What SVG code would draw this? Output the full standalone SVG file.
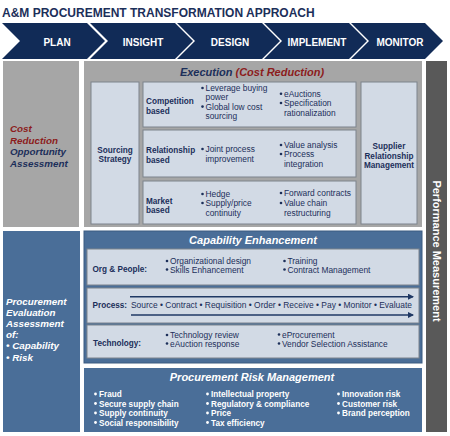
<svg xmlns="http://www.w3.org/2000/svg" width="450" height="436" viewBox="0 0 450 436">
<style>
text{font-family:"Liberation Sans",Arial,sans-serif;}
.title{font-size:12px;font-weight:bold;fill:#1c2f5a;}
.chev{fill:#112b57;}
.cl{font-size:10px;font-weight:bold;fill:#ffffff;text-anchor:middle;}
.gray{fill:#a6a6a6;}
.blue{fill:#4a6e98;}
.lbox{fill:#d2dae5;stroke:#7d838c;stroke-width:1;}
.shadow{fill:#6f757e;}
.hb{font-size:11px;font-weight:bold;font-style:italic;}
.lb{font-size:8.2px;font-weight:bold;fill:#1c2f5a;}
.lbc{font-size:8.2px;font-weight:bold;fill:#1c2f5a;text-anchor:middle;}
.tx{font-size:8.4px;fill:#1c2f5a;}
.wb{font-size:8.2px;font-weight:bold;fill:#ffffff;}
.side{font-size:9.8px;font-weight:bold;font-style:italic;}
.navy{fill:#1c2f5a;}
.red{fill:#8c1c1c;}
.white{fill:#ffffff;}
.dot{fill:#1c2f5a;}
.wdot{fill:#ffffff;}
.pl{stroke:#1f3864;stroke-width:1.6;fill:none;}
</style>
<defs>
<marker id="ah" viewBox="0 0 6 6" refX="5" refY="3" markerWidth="4" markerHeight="4" orient="auto">
<path d="M0,0 L6,3 L0,6 z" fill="#1f3864"/>
</marker>
</defs>

<text class="title" x="2" y="16.5">A&amp;M PROCUREMENT TRANSFORMATION APPROACH</text>

<g id="phases">
<g id="plan"><polygon class="chev" points="2,23 87,23 105,41 87,59 2,59 20,41"/><text class="cl" x="57" y="45.5">PLAN</text></g>
<g id="insight"><polygon class="chev" points="90,23 175,23 193,41 175,59 90,59 108,41"/><text class="cl" x="143" y="45.5">INSIGHT</text></g>
<g id="design"><polygon class="chev" points="177,23 262,23 280,41 262,59 177,59 195,41"/><text class="cl" x="230" y="45.5">DESIGN</text></g>
<g id="implement"><polygon class="chev" points="264,23 349,23 367,41 349,59 264,59 282,41"/><text class="cl" x="317" y="45.5">IMPLEMENT</text></g>
<g id="monitor"><polygon class="chev" points="351,23 425,23 443,41 425,59 351,59 369,41"/><text class="cl" x="400" y="45.5">MONITOR</text></g>
</g>

<g id="cost-reduction">
<rect class="gray" x="3" y="61" width="76" height="166"/>
<text class="side red" x="10" y="132">Cost</text>
<text class="side red" x="10" y="143.5">Reduction</text>
<text class="side navy" x="10" y="155">Opportunity</text>
<text class="side navy" x="10" y="166.5">Assessment</text>
</g>

<g id="execution">
<rect class="gray" x="84" y="61" width="338" height="166"/>
<text class="hb" x="252" y="75.5" text-anchor="middle"><tspan class="navy">Execution </tspan><tspan class="red">(Cost Reduction)</tspan></text>
</g>

<g id="sourcing-strategy">
<rect class="lbox" x="91" y="82" width="48" height="142"/>
<text class="lbc" x="115" y="152.5">Sourcing</text>
<text class="lbc" x="115" y="162">Strategy</text>
</g>

<g id="competition">
<rect class="lbox" x="143" y="82" width="213" height="45"/>
<text class="lb" x="146" y="104">Competition</text>
<text class="lb" x="146" y="113.5">based</text>
<circle class="dot" cx="202.5" cy="88" r="1.3"/>
<text class="tx" x="205.5" y="91">Leverage buying</text>
<text class="tx" x="205.5" y="100.3">power</text>
<circle class="dot" cx="202.5" cy="106.6" r="1.3"/>
<text class="tx" x="205.5" y="109.6">Global low cost</text>
<text class="tx" x="205.5" y="119">sourcing</text>
<circle class="dot" cx="281" cy="93.7" r="1.3"/>
<text class="tx" x="284" y="96.7">eAuctions</text>
<circle class="dot" cx="281" cy="103" r="1.3"/>
<text class="tx" x="284" y="106">Specification</text>
<text class="tx" x="284" y="115.5">rationalization</text>
</g>

<g id="relationship">
<rect class="lbox" x="143" y="130" width="213" height="47"/>
<text class="lb" x="146" y="153">Relationship</text>
<text class="lb" x="146" y="163">based</text>
<circle class="dot" cx="202.5" cy="149" r="1.3"/>
<text class="tx" x="205.5" y="152">Joint process</text>
<text class="tx" x="205.5" y="161.5">improvement</text>
<circle class="dot" cx="281" cy="145" r="1.3"/>
<text class="tx" x="284" y="148">Value analysis</text>
<circle class="dot" cx="281" cy="154" r="1.3"/>
<text class="tx" x="284" y="157">Process</text>
<text class="tx" x="284" y="166.5">integration</text>
</g>

<g id="market">
<rect class="lbox" x="143" y="181" width="213" height="43"/>
<text class="lb" x="146" y="203.5">Market</text>
<text class="lb" x="146" y="213">based</text>
<circle class="dot" cx="202.5" cy="194" r="1.3"/>
<text class="tx" x="205.5" y="197">Hedge</text>
<circle class="dot" cx="202.5" cy="203" r="1.3"/>
<text class="tx" x="205.5" y="206">Supply/price</text>
<text class="tx" x="205.5" y="215.5">continuity</text>
<circle class="dot" cx="281" cy="193" r="1.3"/>
<text class="tx" x="284" y="196">Forward contracts</text>
<circle class="dot" cx="281" cy="203" r="1.3"/>
<text class="tx" x="284" y="206">Value chain</text>
<text class="tx" x="284" y="215.5">restructuring</text>
</g>

<g id="supplier-relationship">
<rect class="lbox" x="361" y="82" width="56" height="142"/>
<text class="lbc" x="389" y="149">Supplier</text>
<text class="lbc" x="389" y="158.5">Relationship</text>
<text class="lbc" x="389" y="168">Management</text>
</g>

<g id="performance">
<rect x="426" y="61" width="21" height="371" fill="#595959"/>
<text transform="translate(432.5,251) rotate(90)" text-anchor="middle" font-size="11" font-weight="bold" fill="#ffffff">Performance Measurement</text>
</g>

<g id="procurement-evaluation">
<rect class="blue" x="3" y="231" width="77" height="201"/>
<text class="side white" x="6" y="305">Procurement</text>
<text class="side white" x="6" y="316">Evaluation</text>
<text class="side white" x="6" y="327">Assessment</text>
<text class="side white" x="6" y="338">of:</text>
<text class="side white" x="6" y="349">• Capability</text>
<text class="side white" x="6" y="360.5">• Risk</text>
</g>

<g id="capability">
<rect class="blue" x="84" y="231" width="338" height="132" stroke="#3b5a80" stroke-width="1"/>
<text class="hb white" x="253" y="243.5" text-anchor="middle">Capability Enhancement</text>
</g>

<g id="org-people">
<rect class="lbox" x="87" y="249" width="332" height="36"/>
<text class="lb" x="92.5" y="271.5">Org &amp; People:</text>
<circle class="dot" cx="167" cy="261" r="1.3"/>
<text class="tx" x="170" y="264">Organizational design</text>
<circle class="dot" cx="167" cy="269.5" r="1.3"/>
<text class="tx" x="170" y="272.5">Skills Enhancement</text>
<circle class="dot" cx="284.5" cy="261" r="1.3"/>
<text class="tx" x="287.5" y="264">Training</text>
<circle class="dot" cx="284.5" cy="269.5" r="1.3"/>
<text class="tx" x="287.5" y="272.5">Contract Management</text>
</g>

<g id="process">
<rect class="lbox" x="87" y="288" width="332" height="35"/>
<text class="lb" x="92.5" y="308.3" font-size="8.7">Process:</text>
<text class="tx" x="131" y="308.3" textLength="281" lengthAdjust="spacingAndGlyphs">Source • Contract • Requisition • Order • Receive • Pay • Monitor • Evaluate</text>
</g>

<g id="connectors">
<line class="pl" x1="130" y1="296.7" x2="413" y2="296.7" marker-end="url(#ah)"/>
<line class="pl" x1="131" y1="315" x2="413" y2="315" marker-end="url(#ah)"/>
</g>

<g id="technology">
<rect class="lbox" x="87" y="325" width="332" height="33"/>
<text class="lb" x="93" y="346">Technology:</text>
<circle class="dot" cx="167" cy="335" r="1.3"/>
<text class="tx" x="170" y="338">Technology review</text>
<circle class="dot" cx="167" cy="343.5" r="1.3"/>
<text class="tx" x="170" y="346.5">eAuction response</text>
<circle class="dot" cx="279" cy="334.5" r="1.3"/>
<text class="tx" x="282" y="337.5">eProcurement</text>
<circle class="dot" cx="279" cy="343.5" r="1.3"/>
<text class="tx" x="282" y="346.5">Vendor Selection Assistance</text>
</g>

<g id="risk-management">
<rect class="blue" x="84" y="368" width="338" height="64"/>
<text class="hb white" x="252" y="381" text-anchor="middle">Procurement Risk Management</text>
<circle class="wdot" cx="95.5" cy="394" r="1.4"/>
<text class="wb" x="99" y="397">Fraud</text>
<circle class="wdot" cx="95.5" cy="403.5" r="1.4"/>
<text class="wb" x="99" y="406.5">Secure supply chain</text>
<circle class="wdot" cx="95.5" cy="413" r="1.4"/>
<text class="wb" x="99" y="416">Supply continuity</text>
<circle class="wdot" cx="95.5" cy="422.5" r="1.4"/>
<text class="wb" x="99" y="425.5">Social responsibility</text>
<circle class="wdot" cx="207.5" cy="394" r="1.4"/>
<text class="wb" x="211" y="397">Intellectual property</text>
<circle class="wdot" cx="207.5" cy="403.5" r="1.4"/>
<text class="wb" x="211" y="406.5">Regulatory &amp; compliance</text>
<circle class="wdot" cx="207.5" cy="413" r="1.4"/>
<text class="wb" x="211" y="416">Price</text>
<circle class="wdot" cx="207.5" cy="422.5" r="1.4"/>
<text class="wb" x="211" y="425.5">Tax efficiency</text>
<circle class="wdot" cx="338.5" cy="394" r="1.4"/>
<text class="wb" x="342" y="397">Innovation risk</text>
<circle class="wdot" cx="338.5" cy="403.5" r="1.4"/>
<text class="wb" x="342" y="406.5">Customer risk</text>
<circle class="wdot" cx="338.5" cy="413" r="1.4"/>
<text class="wb" x="342" y="416">Brand perception</text>
</g>
</svg>
